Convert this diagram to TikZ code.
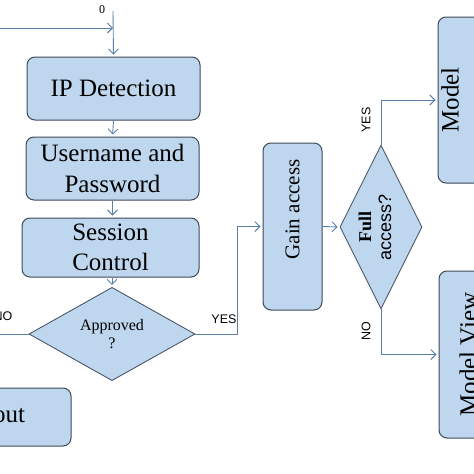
\documentclass[tikz,border=0pt]{standalone}
\usepackage{fontspec}
\usepackage{graphicx}
\setmainfont{Liberation Serif}
\setsansfont{Liberation Sans}
\usetikzlibrary{shapes.geometric,arrows.meta}
\definecolor{boxfill}{HTML}{BED6EE}
\definecolor{boxline}{HTML}{3E4A5A}
\definecolor{arrowc}{HTML}{5B80A8}
\begin{document}
\begin{tikzpicture}[x=1pt,y=-1pt,
  box/.style={draw=boxline, fill=boxfill, line width=1pt, rounded corners=8pt,
    inner sep=0pt, align=center, font=\fontsize{25}{30.5}\selectfont},
  dia/.style={draw=boxline, fill=boxfill, line width=0.8pt, diamond, inner sep=0pt, align=center},
  conn/.style={draw=arrowc, line width=0.9pt},
  tip/.style={-{Straight Barb[length=5pt,width=10pt]}},
  arr/.style={conn, tip, shorten >=2pt},
  lbl/.style={font=\sffamily\fontsize{12.5}{14}\selectfont, inner sep=0pt}]
\useasboundingbox (0,0) rectangle (474,474);
\begin{scope}
\clip (0,0) rectangle (474,474);
% boxes
\node[box, minimum width=173pt, minimum height=63pt] (ip) at (113.5,88.5) {IP Detection};
\node[box, minimum width=173pt, minimum height=63pt] (user) at (112.5,168.5) {Username and\\Password};
\node[box, minimum width=177pt, minimum height=59pt] (sess) at (110.5,247.5) {Session\\Control};
\node[dia, minimum width=166pt, minimum height=79pt, font=\fontsize{16}{18}\selectfont] (appr) at (112,334) {Approved\\?};
\node[box, minimum width=164pt, minimum height=58pt] (logout) at (-11,417) {Logout};
\node[box, minimum width=59pt, minimum height=167pt, font=\fontsize{21}{24}\selectfont] (gain) at (292.5,226.5) {\rotatebox{90}{\hspace{34pt}Gain access}};
\node[dia, minimum width=82pt, minimum height=164pt] (full) at (381,227) {};
\node[inner sep=0pt, rotate=90, align=center, font=\fontsize{18}{20}\selectfont] (fulltxt) at (375,227)
  {\textbf{Full}\\\sffamily access?};
\node[box, minimum width=82pt, minimum height=166pt] (model) at (479,100) {\rotatebox{90}{Model}\hspace{58pt}};
\node[box, minimum width=82pt, minimum height=167pt] (mview) at (480,354.5) {\rotatebox{90}{Model View}\hspace{23pt}};
% top entry
\node[font=\fontsize{12}{12}\selectfont, inner sep=0pt] (zero) at (102,10) {0};
\coordinate (top) at (113,11);
\coordinate (tin) at (113,28);
\coordinate (lin) at (0,28);
\draw[conn, tip] (lin) -- (tin);
\draw[arr] (top) -- (ip.north);
% main column
\draw[arr] (ip.south) -- (user.north);
\draw[arr] (user.south) -- (user.south |- sess.north);
\draw[arr] (appr.north |- sess.south) -- (appr.north);
% approved branches
\coordinate (noend) at (0,334);
\draw[conn] (appr.west) -- (noend);
\node[lbl] (nolbl) at (3,316) {NO};
\coordinate (yb) at (237,334);
\draw[arr] (appr.east) -- (yb) |- (gain.west);
\node[lbl] (yeslbl) at (224,319) {YES};
% gain -> full
\draw[arr] (gain.east) -- (full.west);
% full branches
\draw[arr] (full.north) |- (model.west);
\node[lbl, rotate=90] (yes2) at (366,120) {YES};
\draw[arr] (full.south) |- (mview.west);
\node[lbl, rotate=90] (no2) at (366,331) {NO};
\end{scope}
\end{tikzpicture}
\end{document}
